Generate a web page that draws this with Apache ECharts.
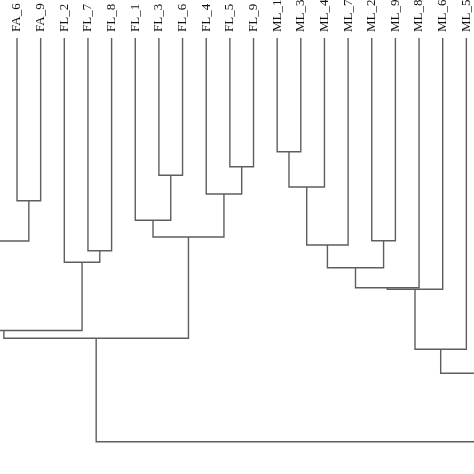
<!DOCTYPE html>
<html><head><meta charset="utf-8">
<script src="https://cdn.jsdelivr.net/npm/echarts@6/dist/echarts.min.js"></script>
<style>html,body{margin:0;padding:0;background:#fff}#c{width:474px;height:474px}</style>
</head><body><div id="c"></div>
<script>
// Leaf order of the dendrogram (first 12 and last 4 lie outside the cropped view)
const leafLabels = [
  'MA_1','MA_2','MA_3','MA_4','MA_5','FA_1','FA_2','FA_3','FA_4','FA_5','FA_7','FA_8',
  'FA_6','FA_9','FL_2','FL_7','FL_8','FL_1','FL_3','FL_6','FL_4','FL_5','FL_9',
  'ML_1','ML_3','ML_4','ML_7','ML_2','ML_9','ML_8','ML_6','ML_5',
  'MA_6','MA_7','MA_8','MA_9'
];
// Merge steps: children ('#k' = result of merge k) and linkage height
const mergeLeft = [
  'MA_4','MA_3','MA_2','MA_1','FA_3','FA_2','FA_7','FA_5','#5','FA_1','#3','FA_6','#10',
  'FL_7','FL_2','#12','FL_3','FL_1','FL_5','FL_4','#17','#15',
  'ML_1','#22','#23','ML_2','#24','#26','#27','#28','MA_6','MA_8','#30','#29','#21'
];
const mergeRight = [
  'MA_5','#0','#1','#2','FA_4','#4','FA_8','#6','#7','#8','#9','FA_9','#11',
  'FL_8','#13','#14','FL_6','#16','FL_9','#18','#19','#20',
  'ML_3','ML_4','ML_7','ML_9','#25','ML_8','ML_6','ML_5','MA_7','MA_9','#31','#32','#33'
];
const mergeHeight = [
  0.90,1.10,1.30,1.50,0.80,1.05,0.95,1.20,1.40,1.60,1.85,1.627,2.03,
  2.127,2.243,2.925,1.373,1.823,1.287,1.56,1.99,3.003,
  1.137,1.49,2.07,2.027,2.297,2.497,2.513,3.113,1.20,1.00,1.70,3.353,4.037
];

const nodeX = {}, nodeH = {};
leafLabels.forEach((l, i) => { nodeX[l] = i; nodeH[l] = 0; });
mergeLeft.forEach((a, i) => {
  const b = mergeRight[i];
  nodeX['#' + i] = (nodeX[a] + nodeX[b]) / 2;
  nodeH['#' + i] = mergeHeight[i];
});

const chart = echarts.init(document.getElementById('c'), null, {renderer: 'canvas'});
chart.setOption({
  animation: false,
  backgroundColor: '#fff',
  grid: {left: 0, right: 0, top: 38, bottom: 16},
  xAxis: {type: 'value', min: 11.281, max: 31.323, show: false},
  yAxis: {type: 'value', inverse: true, min: 0, max: 4.2, show: false},
  series: [
    {
      type: 'custom',
      clip: false,
      data: mergeHeight.map((h, i) => [i, h]),
      renderItem: function (params, api) {
        const i = api.value(0);
        const a = mergeLeft[i], b = mergeRight[i];
        const h = mergeHeight[i];
        const p1 = api.coord([nodeX[a], nodeH[a]]);
        const p2 = api.coord([nodeX[a], h]);
        const p3 = api.coord([nodeX[b], h]);
        const p4 = api.coord([nodeX[b], nodeH[b]]);
        return {
          type: 'polyline',
          shape: {points: [p1, p2, p3, p4]},
          style: {stroke: '#5e5e5e', fill: null, lineWidth: 1.4}
        };
      }
    },
    {
      type: 'custom',
      clip: false,
      data: leafLabels.map((l, i) => [i, 0]),
      renderItem: function (params, api) {
        const i = api.value(0);
        const p = api.coord([i, 0]);
        return {
          type: 'text',
          x: p[0], y: p[1] - 6,
          rotation: Math.PI / 2,
          style: {
            text: leafLabels[i],
            align: 'left', verticalAlign: 'middle',
            font: '13px "Liberation Serif", serif',
            fill: '#111'
          }
        };
      }
    }
  ]
});
</script>
</body></html>
